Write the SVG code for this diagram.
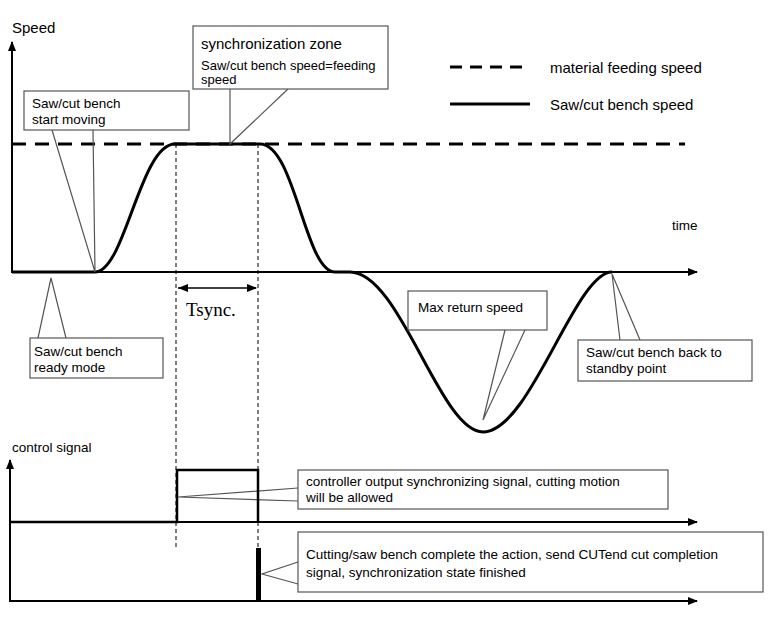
<svg xmlns="http://www.w3.org/2000/svg" width="768" height="626" viewBox="0 0 768 626">
<defs>
<marker id="ah" markerWidth="10" markerHeight="8" refX="9" refY="4" orient="auto" markerUnits="userSpaceOnUse"><path d="M0,0 L10,4 L0,8 Z" fill="#000"/></marker>
<marker id="as" markerWidth="10" markerHeight="8" refX="0" refY="4" orient="auto" markerUnits="userSpaceOnUse"><path d="M10,0 L0,4 L10,8 Z" fill="#000"/></marker>
</defs>
<style>
text{font-family:"Liberation Sans",Arial,sans-serif;font-size:13.5px;fill:#000}
.big{font-size:15px}
.sm{font-size:13px}
.ser{font-family:"Liberation Serif",serif;font-size:19px}
.box{fill:#fff;stroke:#555;stroke-width:1.2}
.co{fill:none;stroke:#555;stroke-width:1.2}
.ax{stroke:#000;stroke-width:2;fill:none}
.dv{stroke:#000;stroke-width:1;stroke-dasharray:4,3;fill:none}
</style>
<g id="axes">
<line class="ax" x1="12" y1="273" x2="12" y2="42" marker-end="url(#ah)"/>
<line class="ax" x1="12" y1="272" x2="697" y2="272" marker-end="url(#ah)"/>
<text x="12" y="33" class="big">Speed</text>
<text x="672" y="230">time</text>
<line x1="12" y1="144" x2="685" y2="144" stroke="#000" stroke-width="3" stroke-dasharray="14,9"/>
</g>
<g id="curve">
<path d="M12,272 L95,272 C125,272 140,144 175,144 L260,144 C295,144 305,272 335,272 L350,272 C400,272 440,432 483,432 C530,432 575,272 612,272" fill="none" stroke="#000" stroke-width="3"/>
</g>
<g id="tsync">
<line class="dv" x1="176" y1="144" x2="176" y2="550"/>
<line class="dv" x1="258" y1="144" x2="258" y2="550"/>
<line x1="178" y1="288" x2="256" y2="288" stroke="#000" stroke-width="1.5" marker-start="url(#as)" marker-end="url(#ah)"/>
<text x="186" y="316" class="ser">Tsync.</text>
</g>
<g id="legend">
<line x1="450" y1="67" x2="530" y2="67" stroke="#000" stroke-width="3" stroke-dasharray="12,8"/>
<text x="550" y="73" class="big">material feeding speed</text>
<line x1="450" y1="104" x2="530" y2="104" stroke="#000" stroke-width="3"/>
<text x="550" y="110" class="big">Saw/cut bench speed</text>
</g>
<g id="connectors">
<polyline class="co" points="52,130 95,272 93,130"/>
<polyline class="co" points="230,89 230,144 288,89"/>
<polyline class="co" points="38,338 51,278 66,338"/>
<polyline class="co" points="505,330 483,420 525,330"/>
<polyline class="co" points="620,340 612,274 640,340"/>
<polyline class="co" points="298,488 178,497 298,501"/>
<polyline class="co" points="298,562 262,574 298,584"/>
</g>
<g id="n-start"><rect class="box" x="24" y="91" width="165" height="39"/><text x="32" y="108">Saw/cut bench</text><text x="32" y="124">start moving</text></g>
<g id="n-sync"><rect class="box" x="193" y="26" width="195" height="63"/><text x="201" y="49" class="big">synchronization zone</text><text x="201" y="70" class="sm">Saw/cut bench speed=feeding</text><text x="201" y="84" class="sm">speed</text></g>
<g id="n-ready"><rect class="box" x="30" y="338" width="133" height="40"/><text x="34" y="356">Saw/cut bench</text><text x="34" y="372">ready mode</text></g>
<g id="n-max"><rect class="box" x="408" y="291" width="139" height="39"/><text x="418" y="312">Max return speed</text></g>
<g id="n-back"><rect class="box" x="578" y="340" width="174" height="41"/><text x="586" y="357">Saw/cut bench back to</text><text x="586" y="373">standby point</text></g>
<g id="control">
<text x="12" y="452">control signal</text>
<line class="ax" x1="10" y1="602" x2="10" y2="460" marker-end="url(#ah)"/>
<line class="ax" x1="10" y1="522" x2="697" y2="522" marker-end="url(#ah)"/>
<line class="ax" x1="10" y1="601" x2="697" y2="601" marker-end="url(#ah)"/>
<polyline points="10,522 177,522 177,470 258,470 258,522" fill="none" stroke="#000" stroke-width="2.5"/>
<rect x="256" y="548" width="5" height="53" fill="#000"/>
</g>
<g id="n-ctrl"><rect class="box" x="298" y="470" width="370" height="39"/><text x="306" y="486">controller output synchronizing signal, cutting motion</text><text x="306" y="502">will be allowed</text></g>
<g id="n-cut"><rect class="box" x="298" y="532" width="465" height="60"/><text x="306" y="559">Cutting/saw bench complete the action, send CUTend cut completion</text><text x="306" y="577">signal, synchronization state finished</text></g>
</svg>
